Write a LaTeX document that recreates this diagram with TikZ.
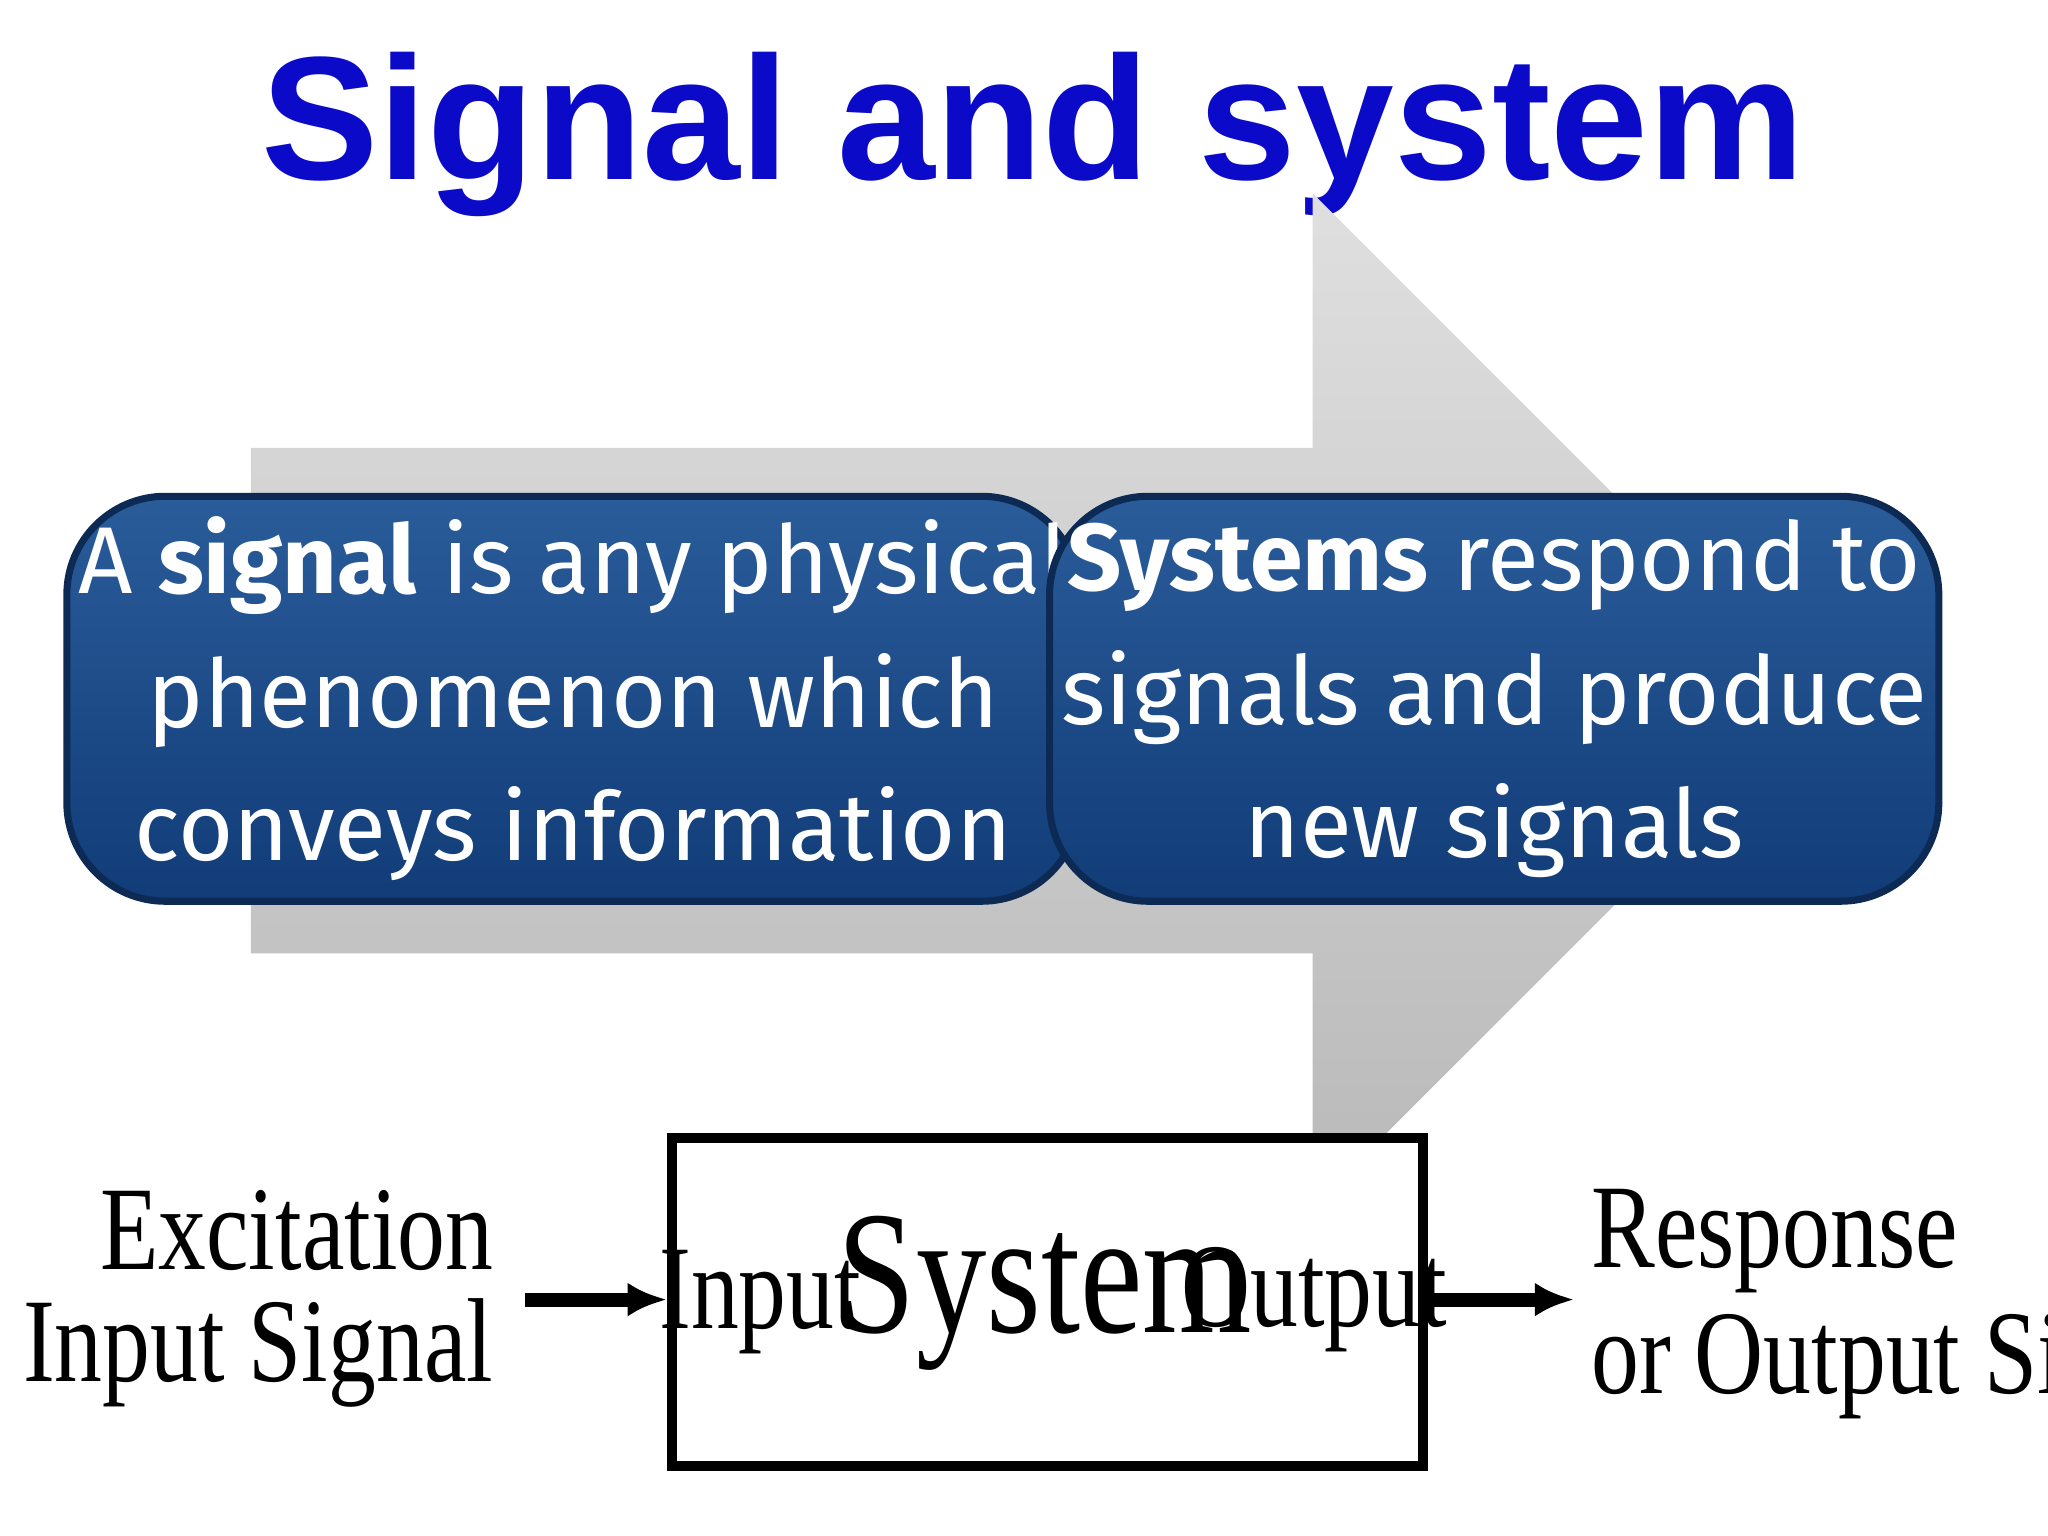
\documentclass[tikz,border=0pt]{standalone}
\usepackage{fontspec}
\setmainfont{Liberation Serif}
\newfontfamily\titlef{Liberation Sans}
\newfontfamily\boxf{Fira Sans}
\usetikzlibrary{arrows.meta}
\definecolor{ttl}{HTML}{0A0AC8}
\definecolor{bxa}{HTML}{2A5C9A}
\definecolor{bxb}{HTML}{113C78}
\tikzset{
 bx/.style={draw=bxb!70!black,line width=2pt,rounded corners=28pt,top color=bxa,bottom color=bxb,minimum width=8.72cm,minimum height=4.05cm,text=white,align=center,font=\boxf\fontsize{27}{38}\selectfont},
 tm/.style={font=\fontsize{34}{36}\selectfont,xscale=0.8,inner sep=0pt},
 ar/.style={line width=4pt,-{Latex[length=0.39cm,width=0.34cm]}}
}
\begin{document}
\begin{tikzpicture}[x=0.01306cm,y=-0.01306cm]
\useasboundingbox (0,0) rectangle (1568,1176);
\node[font=\titlef\bfseries\fontsize{50}{56}\selectfont,text=ttl] (title) at (791,103) {Signal and system};
\shade[top color=gray!25,bottom color=gray!55] (192,343) -- (1005,343) -- (1005,148) -- (1393,536) -- (1005,924) -- (1005,730) -- (192,730) -- cycle;
\node[bx] (sig) at (439,535) {A \textbf{signal} is any physical\\phenomenon which\\conveys information};
\node[bx] (sys) at (1144,535) {\textbf{Systems} respond to\\signals and produce\\new signals};
\node[draw,line width=3pt,fill=white,minimum width=7.51cm,minimum height=3.28cm] (box) at (802,997) {};
\node[tm] (in) at (582,997) {Input};
\node[tm,font=\fontsize{50}{52}\selectfont] (st) at (800,990) {System};
\node[tm] (out) at (1006,995) {Output};
\node[tm,anchor=east] (ex) at (378,942) {Excitation};
\node[tm,anchor=east] (ins) at (378,1036) {or Input Signal};
\node[tm,anchor=west] (re) at (1218,950) {Response};
\node[tm,anchor=west] (os) at (1218,1045) {or Output Signal};
\coordinate (a1) at (402,995);
\coordinate (a2) at (1205,995);
\draw[ar] (a1) -- (box.west|-a1);
\draw[ar] (box.east|-a2) -- (a2);
\end{tikzpicture}
\end{document}
